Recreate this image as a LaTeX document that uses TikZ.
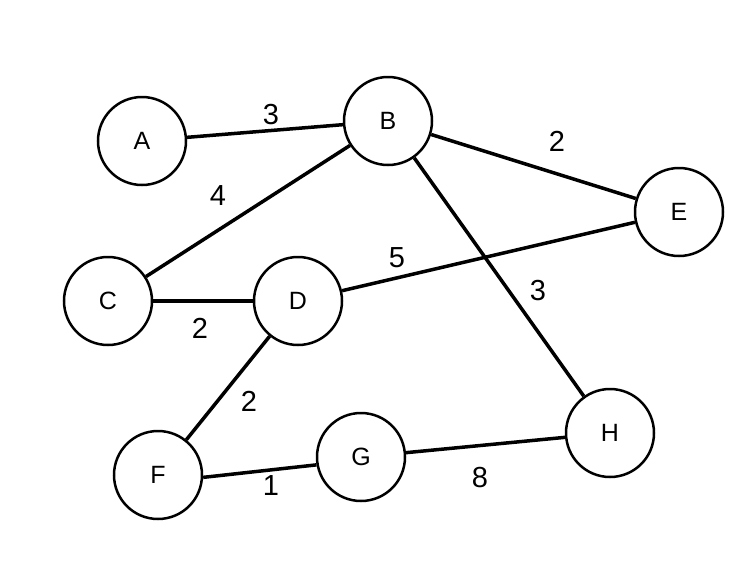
\documentclass[tikz,border=0pt]{standalone}
\usepackage{fontspec}
\setmainfont{Liberation Sans}
\usepackage{tikz}

\tikzset{
	vertex/.style={circle, draw, line width=2.5pt, minimum size=88pt, inner sep=0pt, font=\fontsize{25}{25}\selectfont},
	edge/.style={line width=3.5pt},
	weight/.style={inner sep=0pt, font=\fontsize{29}{29}\selectfont}
}

\begin{document}
\begin{tikzpicture}[x=1pt,y=-1pt]
					% Fix the canvas to the size of the graph page
					\useasboundingbox (0,0) rectangle (752,584);
					
					% Draw the vertices
					\foreach \name/\x/\y in {A/142/141, B/388/121, C/108/301, D/298/301, E/679/212, F/158/475, G/361/457, H/610/433}
					\node[vertex] (\name) at (\x,\y) {\name};
					
					% Draw the edges between vertices
					\foreach \a/\b in {A/B, B/C, B/E, B/H, C/D, D/E, D/F, F.-3/G.190, G/H}
					\draw[edge] (\a) -- (\b);
					
					% Label the weight of each edge
					\foreach \n/\x/\y/\w in {AB/271/115/3, BC/218/196/4, BE/557/141/2, BH/538/291/3, CD/200/328/2, DE/397/258/5, DF/249/401/2, FG/271/486/1, GH/480/478/8}
					\node[weight] (w\n) at (\x,\y) {\w};
\end{tikzpicture}
\end{document}
